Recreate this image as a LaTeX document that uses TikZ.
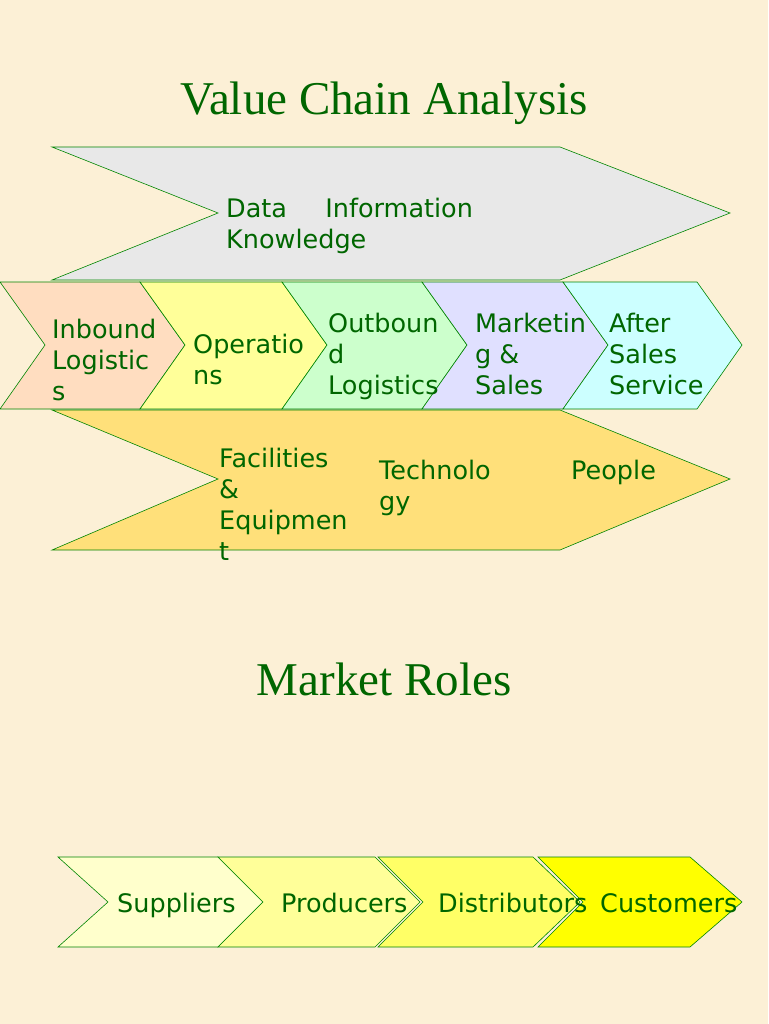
\documentclass[tikz,border=0pt]{standalone}
\usepackage{fontspec}
\setmainfont{Liberation Serif}
\newfontfamily\dv{DejaVu Sans}
\definecolor{bg}{HTML}{FCF0D6}
\definecolor{dg}{HTML}{006600}
\tikzset{
 chev/.style={draw=dg!80!green,line width=0.6pt},
 lbl/.style={font=\dv\fontsize{25.5}{31}\selectfont,text=dg,anchor=north west,align=left,inner sep=0pt},
 ttl/.style={font=\fontsize{47}{50}\selectfont,text=dg}
}
\begin{document}
\begin{tikzpicture}[x=1pt,y=-1pt]
\fill[bg] (0,0) rectangle (768,1024);
\useasboundingbox (0,0) rectangle (768,1024);
\node[ttl] (t1) at (384,103) {Value Chain Analysis};
\draw[chev,fill=black!9] (52,147)--(560,147)--(730,213)--(560,280)--(52,280)--(218,213)--cycle;
\node[lbl] (d1) at (226,198) {Data\hspace{1.5em}Information\\Knowledge};
\draw[chev,fill={rgb,255:red,255;green,221;blue,192}] (0,282)--(140,282)--(185,345)--(140,409)--(0,409)--(45,345)--cycle;
\draw[chev,fill={rgb,255:red,255;green,255;blue,153}] (140,282)--(282,282)--(327,345)--(282,409)--(140,409)--(185,345)--cycle;
\draw[chev,fill={rgb,255:red,204;green,255;blue,204}] (282,282)--(422,282)--(467,345)--(422,409)--(282,409)--(327,345)--cycle;
\draw[chev,fill={rgb,255:red,224;green,224;blue,255}] (422,282)--(563,282)--(608,345)--(563,409)--(422,409)--(467,345)--cycle;
\draw[chev,fill={rgb,255:red,204;green,255;blue,255}] (563,282)--(697,282)--(742,345)--(697,409)--(563,409)--(608,345)--cycle;
\node[lbl] (p1) at (52,319) {Inbound\\Logistic\\s};
\node[lbl] (p2) at (193,334) {Operatio\\ns};
\node[lbl] (p3) at (328,313) {Outboun\\d\\Logistics};
\node[lbl] (p4) at (475,313) {Marketin\\g \&\\Sales};
\node[lbl] (p5) at (609,313) {After\\Sales\\Service};
\draw[chev,fill={rgb,255:red,255;green,224;blue,122}] (52,410)--(560,410)--(730,479)--(560,550)--(52,550)--(218,479)--cycle;
\node[lbl] (s1) at (219,448) {Facilities\\\&\\Equipmen\\t};
\node[lbl] (s2) at (379,460) {Technolo\\gy};
\node[lbl] (s3) at (571,460) {People};
\node[ttl] (t2) at (384,679) {Market Roles};
\draw[chev,fill={rgb,255:red,255;green,255;blue,204}] (58,857)--(218,857)--(263,902)--(218,947)--(58,947)--(108,902)--cycle;
\draw[chev,fill={rgb,255:red,255;green,255;blue,153}] (218,857)--(375,857)--(420,902)--(375,947)--(218,947)--(263,902)--cycle;
\draw[chev,fill={rgb,255:red,255;green,255;blue,102}] (378,857)--(533,857)--(580,902)--(533,947)--(378,947)--(423,902)--cycle;
\draw[chev,fill={rgb,255:red,255;green,255;blue,0}] (538,857)--(690,857)--(742,902)--(690,947)--(538,947)--(583,902)--cycle;
\node[lbl,anchor=base west] (m1) at (117,912) {Suppliers};
\node[lbl,anchor=base west] (m2) at (281,912) {Producers};
\node[lbl,anchor=base west] (m3) at (438,912) {Distributors};
\node[lbl,anchor=base west] (m4) at (600,912) {Customers};
\end{tikzpicture}
\end{document}
